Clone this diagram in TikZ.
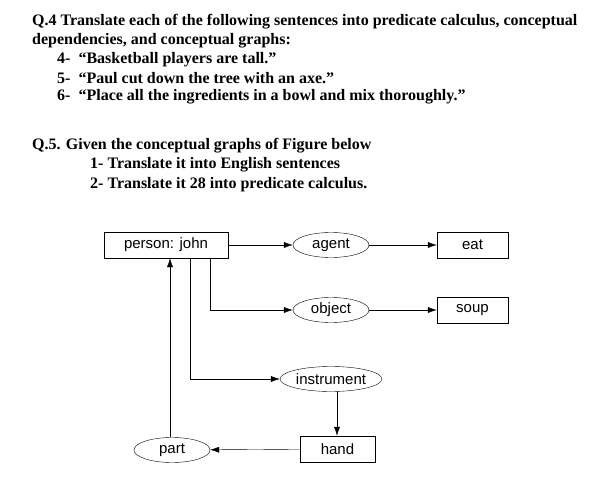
\documentclass[tikz,border=0pt]{standalone}
\usepackage{fontspec}
\setmainfont{Liberation Serif}
\newfontfamily\diag{Liberation Sans}
\usetikzlibrary{shapes.geometric,arrows.meta}
\begin{document}
\begin{tikzpicture}[x=1pt,y=-1pt,
  txt/.style={anchor=west,font=\fontsize{16}{18}\selectfont\bfseries,inner sep=0},
  rbox/.style={draw,font=\diag\fontsize{15}{17}\selectfont,minimum height=26pt,inner sep=0},
  ell/.style={draw,ellipse,font=\diag\fontsize{15}{17}\selectfont,minimum height=25pt,inner sep=0},
  arr/.style={-{Latex[length=9pt,width=6pt]},thin}]
\useasboundingbox (0,0) rectangle (608,487);
\node[txt] (l1) at (32,22) {Q.4 Translate each of the following sentences into predicate calculus, conceptual};
\node[txt] (l2) at (32,41) {dependencies, and conceptual graphs:};
\node[txt] (l3) at (57,60) {4-\ \ “Basketball players are tall.”};
\node[txt] (l4) at (57,78) {5-\ \ “Paul cut down the tree with an axe.”};
\node[txt] (l5) at (57,97) {6-\ \ “Place all the ingredients in a bowl and mix thoroughly.”};
\node[txt] (l6) at (32,146) {Q.5. Given the conceptual graphs of Figure below};
\node[txt] (l7) at (90,165) {1- Translate it into English sentences};
\node[txt] (l8) at (90,185) {2- Translate it 28 into predicate calculus.};

\node[rbox,minimum width=124pt] (person) at (166,245) {person: john};
\node[ell,minimum width=76pt] (agent) at (331,245) {agent};
\node[rbox,minimum width=71pt] (eat) at (472.5,245) {eat};
\node[ell,minimum width=76pt] (object) at (331,310) {object};
\node[rbox,minimum width=71pt] (soup) at (472.5,310) {soup};
\node[ell,minimum width=90pt,inner xsep=1pt] (instr) at (331,379) {instrument};
\node[rbox,minimum width=75pt] (hand) at (337.5,449) {hand};
\node[ell,minimum width=76pt] (part) at (172,450) {part};

\draw[arr] (person) -- (agent);
\draw[arr] (agent) -- (eat);
\draw[arr] (person.south -| 210,0) |- (object);
\draw[arr] (object) -- (soup);
\draw[arr] (person.south -| 190,0) |- (instr);
\draw[arr] (instr.south -| 337,0) -- (hand.north -| 337,0);
\draw[arr] (hand) -- (part);
\draw[arr] (part.north -| 170,0) -- (person.south -| 170,0);
\end{tikzpicture}
\end{document}
